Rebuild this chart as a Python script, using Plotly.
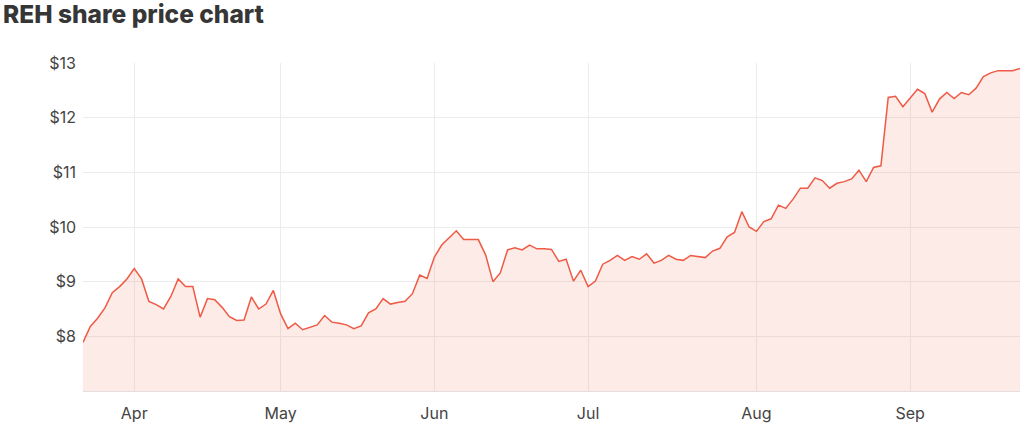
import plotly.graph_objects as go

# Closing prices (AUD), one per trading day
prices = [
    7.89, 8.18, 8.33, 8.52, 8.80, 8.91, 9.05, 9.24, 9.05, 8.64,
    8.58, 8.50, 8.73, 9.05, 8.91, 8.91, 8.35, 8.69, 8.67, 8.53,
    8.36, 8.29, 8.30, 8.72, 8.50, 8.59, 8.84, 8.41, 8.14, 8.24,
    8.12, 8.16, 8.21, 8.38, 8.26, 8.24, 8.21, 8.14, 8.19, 8.43,
    8.50, 8.69, 8.59, 8.62, 8.64, 8.78, 9.12, 9.06, 9.45, 9.67,
    9.80, 9.93, 9.77, 9.77, 9.77, 9.49, 9.00, 9.16, 9.58, 9.62,
    9.58, 9.67, 9.60, 9.60, 9.59, 9.37, 9.41, 9.01, 9.21, 8.91,
    9.01, 9.32, 9.39, 9.48, 9.39, 9.46, 9.41, 9.51, 9.34, 9.39,
    9.48, 9.41, 9.39, 9.48, 9.46, 9.44, 9.56, 9.61, 9.82, 9.90,
    10.28, 10.00, 9.92, 10.10, 10.15, 10.40, 10.34, 10.51, 10.71, 10.71,
    10.90, 10.85, 10.71, 10.80, 10.83, 10.88, 11.04, 10.83, 11.09, 11.12,
    12.37, 12.39, 12.20, 12.37, 12.52, 12.44, 12.10, 12.34, 12.46, 12.35,
    12.46, 12.42, 12.54, 12.75, 12.82, 12.86, 12.86, 12.86, 12.90,
]
day_index = list(range(len(prices)))

# First trading day of each month (index into prices) and its label
month_start_index = [7, 27, 48, 69, 92, 113]
month_labels = ["Apr", "May", "Jun", "Jul", "Aug", "Sep"]

y_ticks = [8, 9, 10, 11, 12, 13]
y_tick_labels = ["$8", "$9", "$10", "$11", "$12", "$13"]

LINE = "#ef5a45"
FILL = "rgba(239,90,69,0.12)"
GRID = "#ececec"
TEXT = "#444444"
FONT = "Inter, 'Open Sans', sans-serif"

fig = go.Figure(
    go.Scatter(
        x=day_index,
        y=prices,
        mode="lines",
        line=dict(color=LINE, width=1.5),
        fill="tozeroy",
        fillcolor=FILL,
        hoverinfo="skip",
    )
)

fig.update_layout(
    width=1024,
    height=427,
    margin=dict(l=83, r=4, t=63, b=36),
    paper_bgcolor="white",
    plot_bgcolor="white",
    showlegend=False,
    font=dict(family=FONT, color=TEXT, size=16),
    title=dict(
        text="REH share price chart",
        x=0.003,
        xanchor="left",
        xref="container",
        y=1 - 14 / 427,
        yanchor="middle",
        yref="container",
        font=dict(family=FONT, size=24.5, color="#363636", weight=800),
    ),
)

fig.update_xaxes(
    range=[0, len(prices) - 1],
    tickmode="array",
    tickvals=month_start_index,
    ticktext=month_labels,
    showgrid=True,
    gridcolor=GRID,
    gridwidth=1,
    zeroline=False,
    showline=True,
    linecolor="#e6dede",
    linewidth=1,
    ticks="",
    ticklabelstandoff=8,
    tickfont=dict(family=FONT, size=16, color=TEXT),
)

fig.update_yaxes(
    range=[7, 13],
    tickmode="array",
    tickvals=y_ticks,
    ticktext=y_tick_labels,
    showgrid=True,
    gridcolor=GRID,
    gridwidth=1,
    zeroline=False,
    showline=False,
    ticks="",
    ticklabelstandoff=6,
    tickfont=dict(family=FONT, size=16, color=TEXT),
)

fig.write_html(
    "out.html",
    config={"displayModeBar": False, "staticPlot": True},
    post_script="document.body.style.margin='0';document.body.style.overflow='hidden';",
)
